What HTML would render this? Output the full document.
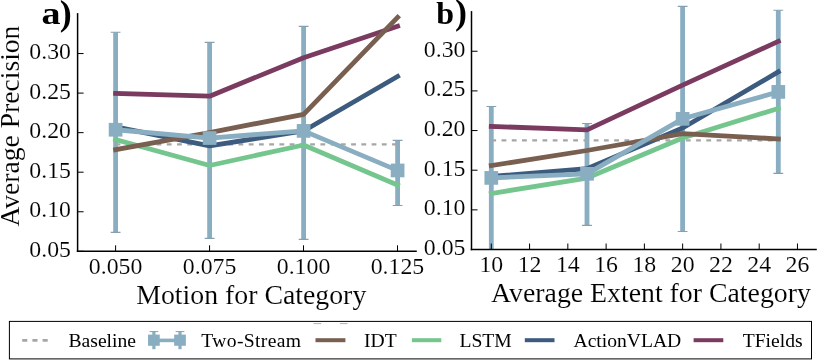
<!DOCTYPE html>
<html><head><meta charset="utf-8"><style>
html,body{margin:0;padding:0;background:#fff;width:821px;height:362px;overflow:hidden}
svg{display:block;will-change:transform}
</style></head><body>
<svg width="821" height="362" viewBox="0 0 821 362">
<rect width="821" height="362" fill="#fff"/>
<defs><clipPath id="ca"><rect x="77.6" y="0" width="339.2" height="251.3"/></clipPath><clipPath id="cb"><rect x="471.5" y="0" width="345.3" height="249.5"/></clipPath></defs>
<g clip-path="url(#ca)">
<line x1="115.60" y1="32.30" x2="115.60" y2="232.40" stroke="#89aec1" stroke-width="4.80"/>
<line x1="110.70" y1="32.30" x2="120.50" y2="32.30" stroke="#86a0b0" stroke-width="1.1"/>
<line x1="110.70" y1="232.40" x2="120.50" y2="232.40" stroke="#86a0b0" stroke-width="1.1"/>
<line x1="209.60" y1="42.40" x2="209.60" y2="238.40" stroke="#89aec1" stroke-width="4.80"/>
<line x1="204.70" y1="42.40" x2="214.50" y2="42.40" stroke="#86a0b0" stroke-width="1.1"/>
<line x1="204.70" y1="238.40" x2="214.50" y2="238.40" stroke="#86a0b0" stroke-width="1.1"/>
<line x1="303.60" y1="26.40" x2="303.60" y2="239.40" stroke="#89aec1" stroke-width="4.80"/>
<line x1="298.70" y1="26.40" x2="308.50" y2="26.40" stroke="#86a0b0" stroke-width="1.1"/>
<line x1="298.70" y1="239.40" x2="308.50" y2="239.40" stroke="#86a0b0" stroke-width="1.1"/>
<line x1="397.60" y1="140.40" x2="397.60" y2="205.50" stroke="#89aec1" stroke-width="4.80"/>
<line x1="392.70" y1="140.40" x2="402.50" y2="140.40" stroke="#86a0b0" stroke-width="1.1"/>
<line x1="392.70" y1="205.50" x2="402.50" y2="205.50" stroke="#86a0b0" stroke-width="1.1"/>
<line x1="115.60" y1="144.30" x2="397.60" y2="144.30" stroke="#a6a6a6" stroke-width="2.2" stroke-dasharray="4.8 5.44"/>
<polyline points="115.60,126.80 209.60,145.80 303.60,131.00 397.60,76.50" fill="none" stroke="#3c5b7e" stroke-width="4.80" stroke-linecap="square" stroke-linejoin="round" />
<polyline points="115.60,139.50 209.60,165.50 303.60,145.00 397.60,185.00" fill="none" stroke="#75c68e" stroke-width="4.80" stroke-linecap="square" stroke-linejoin="round" />
<polyline points="115.60,93.50 209.60,96.20 303.60,57.70 397.60,26.20" fill="none" stroke="#7b3b60" stroke-width="4.80" stroke-linecap="square" stroke-linejoin="round" />
<polyline points="115.60,149.70 209.60,132.60 303.60,114.30 397.60,17.40" fill="none" stroke="#785f50" stroke-width="4.80" stroke-linecap="square" stroke-linejoin="round" />
<polyline points="115.60,129.75 209.60,138.05 303.60,130.90 397.60,170.45" fill="none" stroke="#89aec1" stroke-width="4.80" stroke-linecap="square" stroke-linejoin="round" />
<rect x="108.75" y="122.90" width="13.7" height="13.7" fill="#89aec1"/>
<rect x="202.75" y="131.20" width="13.7" height="13.7" fill="#89aec1"/>
<rect x="296.75" y="124.05" width="13.7" height="13.7" fill="#89aec1"/>
<rect x="390.75" y="163.60" width="13.7" height="13.7" fill="#89aec1"/>
</g>
<g clip-path="url(#cb)">
<line x1="491.30" y1="106.50" x2="491.30" y2="262.00" stroke="#89aec1" stroke-width="4.80"/>
<line x1="486.40" y1="106.50" x2="496.20" y2="106.50" stroke="#86a0b0" stroke-width="1.1"/>
<line x1="486.40" y1="262.00" x2="496.20" y2="262.00" stroke="#86a0b0" stroke-width="1.1"/>
<line x1="587.00" y1="123.50" x2="587.00" y2="225.40" stroke="#89aec1" stroke-width="4.80"/>
<line x1="582.10" y1="123.50" x2="591.90" y2="123.50" stroke="#86a0b0" stroke-width="1.1"/>
<line x1="582.10" y1="225.40" x2="591.90" y2="225.40" stroke="#86a0b0" stroke-width="1.1"/>
<line x1="682.60" y1="6.40" x2="682.60" y2="231.50" stroke="#89aec1" stroke-width="4.80"/>
<line x1="677.70" y1="6.40" x2="687.50" y2="6.40" stroke="#86a0b0" stroke-width="1.1"/>
<line x1="677.70" y1="231.50" x2="687.50" y2="231.50" stroke="#86a0b0" stroke-width="1.1"/>
<line x1="778.30" y1="10.30" x2="778.30" y2="173.40" stroke="#89aec1" stroke-width="4.80"/>
<line x1="773.40" y1="10.30" x2="783.20" y2="10.30" stroke="#86a0b0" stroke-width="1.1"/>
<line x1="773.40" y1="173.40" x2="783.20" y2="173.40" stroke="#86a0b0" stroke-width="1.1"/>
<line x1="491.30" y1="140.40" x2="778.30" y2="140.40" stroke="#a6a6a6" stroke-width="2.2" stroke-dasharray="4.8 5.44"/>
<polyline points="491.30,176.40 587.00,168.60 682.60,128.00 778.30,71.90" fill="none" stroke="#3c5b7e" stroke-width="4.80" stroke-linecap="square" stroke-linejoin="round" />
<polyline points="491.30,193.50 587.00,178.06 682.60,138.00 778.30,108.40" fill="none" stroke="#75c68e" stroke-width="4.80" stroke-linecap="square" stroke-linejoin="round" />
<polyline points="491.30,126.40 587.00,129.90 682.60,85.20 778.30,41.40" fill="none" stroke="#7b3b60" stroke-width="4.80" stroke-linecap="square" stroke-linejoin="round" />
<polyline points="491.30,165.60 587.00,150.50 682.60,133.60 778.30,138.90" fill="none" stroke="#785f50" stroke-width="4.80" stroke-linecap="square" stroke-linejoin="round" />
<polyline points="491.30,177.90 587.00,173.80 682.60,118.80 778.30,91.90" fill="none" stroke="#89aec1" stroke-width="4.80" stroke-linecap="square" stroke-linejoin="round" />
<rect x="484.45" y="171.05" width="13.7" height="13.7" fill="#89aec1"/>
<rect x="580.15" y="166.95" width="13.7" height="13.7" fill="#89aec1"/>
<rect x="675.75" y="111.95" width="13.7" height="13.7" fill="#89aec1"/>
<rect x="771.45" y="85.05" width="13.7" height="13.7" fill="#89aec1"/>
</g>
<line x1="77.60" y1="13.10" x2="77.60" y2="252.05" stroke="#000" stroke-width="1.50"/>
<line x1="76.85" y1="251.30" x2="416.80" y2="251.30" stroke="#000" stroke-width="1.50"/>
<line x1="115.60" y1="251.30" x2="115.60" y2="245.30" stroke="#000" stroke-width="1"/>
<line x1="209.57" y1="251.30" x2="209.57" y2="245.30" stroke="#000" stroke-width="1"/>
<line x1="303.53" y1="251.30" x2="303.53" y2="245.30" stroke="#000" stroke-width="1"/>
<line x1="397.50" y1="251.30" x2="397.50" y2="245.30" stroke="#000" stroke-width="1"/>
<line x1="77.60" y1="251.30" x2="83.60" y2="251.30" stroke="#000" stroke-width="1"/>
<line x1="77.60" y1="211.75" x2="83.60" y2="211.75" stroke="#000" stroke-width="1"/>
<line x1="77.60" y1="172.20" x2="83.60" y2="172.20" stroke="#000" stroke-width="1"/>
<line x1="77.60" y1="132.65" x2="83.60" y2="132.65" stroke="#000" stroke-width="1"/>
<line x1="77.60" y1="93.10" x2="83.60" y2="93.10" stroke="#000" stroke-width="1"/>
<line x1="77.60" y1="53.55" x2="83.60" y2="53.55" stroke="#000" stroke-width="1"/>
<line x1="471.50" y1="11.10" x2="471.50" y2="250.25" stroke="#000" stroke-width="1.50"/>
<line x1="470.75" y1="249.50" x2="816.80" y2="249.50" stroke="#000" stroke-width="1.50"/>
<line x1="491.30" y1="249.50" x2="491.30" y2="243.50" stroke="#000" stroke-width="1"/>
<line x1="529.57" y1="249.50" x2="529.57" y2="243.50" stroke="#000" stroke-width="1"/>
<line x1="567.84" y1="249.50" x2="567.84" y2="243.50" stroke="#000" stroke-width="1"/>
<line x1="606.11" y1="249.50" x2="606.11" y2="243.50" stroke="#000" stroke-width="1"/>
<line x1="644.38" y1="249.50" x2="644.38" y2="243.50" stroke="#000" stroke-width="1"/>
<line x1="682.65" y1="249.50" x2="682.65" y2="243.50" stroke="#000" stroke-width="1"/>
<line x1="720.92" y1="249.50" x2="720.92" y2="243.50" stroke="#000" stroke-width="1"/>
<line x1="759.19" y1="249.50" x2="759.19" y2="243.50" stroke="#000" stroke-width="1"/>
<line x1="797.46" y1="249.50" x2="797.46" y2="243.50" stroke="#000" stroke-width="1"/>
<line x1="471.50" y1="249.50" x2="477.50" y2="249.50" stroke="#000" stroke-width="1"/>
<line x1="471.50" y1="209.85" x2="477.50" y2="209.85" stroke="#000" stroke-width="1"/>
<line x1="471.50" y1="170.20" x2="477.50" y2="170.20" stroke="#000" stroke-width="1"/>
<line x1="471.50" y1="130.55" x2="477.50" y2="130.55" stroke="#000" stroke-width="1"/>
<line x1="471.50" y1="90.90" x2="477.50" y2="90.90" stroke="#000" stroke-width="1"/>
<line x1="471.50" y1="51.25" x2="477.50" y2="51.25" stroke="#000" stroke-width="1"/>
<text x="71" y="256.80" font-family="Liberation Serif" stroke="#fff" stroke-width="0.12" font-size="23.8" text-anchor="end">0.05</text>
<text x="465.5" y="255.00" font-family="Liberation Serif" stroke="#fff" stroke-width="0.12" font-size="23.8" text-anchor="end">0.05</text>
<text x="71" y="217.25" font-family="Liberation Serif" stroke="#fff" stroke-width="0.12" font-size="23.8" text-anchor="end">0.10</text>
<text x="465.5" y="215.35" font-family="Liberation Serif" stroke="#fff" stroke-width="0.12" font-size="23.8" text-anchor="end">0.10</text>
<text x="71" y="177.70" font-family="Liberation Serif" stroke="#fff" stroke-width="0.12" font-size="23.8" text-anchor="end">0.15</text>
<text x="465.5" y="175.70" font-family="Liberation Serif" stroke="#fff" stroke-width="0.12" font-size="23.8" text-anchor="end">0.15</text>
<text x="71" y="138.15" font-family="Liberation Serif" stroke="#fff" stroke-width="0.12" font-size="23.8" text-anchor="end">0.20</text>
<text x="465.5" y="136.05" font-family="Liberation Serif" stroke="#fff" stroke-width="0.12" font-size="23.8" text-anchor="end">0.20</text>
<text x="71" y="98.60" font-family="Liberation Serif" stroke="#fff" stroke-width="0.12" font-size="23.8" text-anchor="end">0.25</text>
<text x="465.5" y="96.40" font-family="Liberation Serif" stroke="#fff" stroke-width="0.12" font-size="23.8" text-anchor="end">0.25</text>
<text x="71" y="59.05" font-family="Liberation Serif" stroke="#fff" stroke-width="0.12" font-size="23.8" text-anchor="end">0.30</text>
<text x="465.5" y="56.75" font-family="Liberation Serif" stroke="#fff" stroke-width="0.12" font-size="23.8" text-anchor="end">0.30</text>
<text x="115.60" y="273.8" font-family="Liberation Serif" stroke="#fff" stroke-width="0.12" font-size="23.8" text-anchor="middle">0.050</text>
<text x="209.57" y="273.8" font-family="Liberation Serif" stroke="#fff" stroke-width="0.12" font-size="23.8" text-anchor="middle">0.075</text>
<text x="303.53" y="273.8" font-family="Liberation Serif" stroke="#fff" stroke-width="0.12" font-size="23.8" text-anchor="middle">0.100</text>
<text x="397.50" y="273.8" font-family="Liberation Serif" stroke="#fff" stroke-width="0.12" font-size="23.8" text-anchor="middle">0.125</text>
<text x="491.30" y="272.2" font-family="Liberation Serif" stroke="#fff" stroke-width="0.12" font-size="23.8" text-anchor="middle">10</text>
<text x="529.57" y="272.2" font-family="Liberation Serif" stroke="#fff" stroke-width="0.12" font-size="23.8" text-anchor="middle">12</text>
<text x="567.84" y="272.2" font-family="Liberation Serif" stroke="#fff" stroke-width="0.12" font-size="23.8" text-anchor="middle">14</text>
<text x="606.11" y="272.2" font-family="Liberation Serif" stroke="#fff" stroke-width="0.12" font-size="23.8" text-anchor="middle">16</text>
<text x="644.38" y="272.2" font-family="Liberation Serif" stroke="#fff" stroke-width="0.12" font-size="23.8" text-anchor="middle">18</text>
<text x="682.65" y="272.2" font-family="Liberation Serif" stroke="#fff" stroke-width="0.12" font-size="23.8" text-anchor="middle">20</text>
<text x="720.92" y="272.2" font-family="Liberation Serif" stroke="#fff" stroke-width="0.12" font-size="23.8" text-anchor="middle">22</text>
<text x="759.19" y="272.2" font-family="Liberation Serif" stroke="#fff" stroke-width="0.12" font-size="23.8" text-anchor="middle">24</text>
<text x="797.46" y="272.2" font-family="Liberation Serif" stroke="#fff" stroke-width="0.12" font-size="23.8" text-anchor="middle">26</text>
<text x="251.25" y="303.9" font-family="Liberation Serif" stroke="#fff" stroke-width="0.12" font-size="27.8" text-anchor="middle">Motion for Category</text>
<text x="650.95" y="302.4" font-family="Liberation Serif" stroke="#fff" stroke-width="0.12" font-size="27.8" text-anchor="middle">Average Extent for Category</text>
<text transform="translate(19.1,126.1) rotate(-90)" x="0" y="0" font-family="Liberation Serif" stroke="#fff" stroke-width="0.12" font-size="27.6" text-anchor="middle">Average Precision</text>
<text transform="translate(41.6,24.4) scale(1.17,1)" x="0" y="0" font-family="Liberation Serif" font-size="32.5" font-weight="bold">a</text>
<text x="59.8" y="24.8" font-family="Liberation Serif" font-size="36" font-weight="bold">)</text>
<text x="436.2" y="23.8" font-family="Liberation Serif" font-size="32" font-weight="bold">b</text>
<text x="455" y="24.4" font-family="Liberation Serif" font-size="36" font-weight="bold">)</text>
<rect x="9.4" y="321.4" width="802.1" height="37.5" fill="none" stroke="#000" stroke-width="1"/>
<line x1="22.2" y1="340.4" x2="48.1" y2="340.4" stroke="#a6a6a6" stroke-width="2.6" stroke-dasharray="5.1 5.1"/>
<text x="68.5" y="347" font-family="Liberation Serif" font-size="19.6">Baseline</text>
<line x1="154" y1="340.4" x2="179.9" y2="340.4" stroke="#89aec1" stroke-width="3.6"/>
<rect x="148.05" y="334.6" width="11.7" height="11.2" fill="#89aec1"/>
<line x1="153.90" y1="331.4" x2="153.90" y2="349.2" stroke="#89aec1" stroke-width="3.2"/>
<line x1="149.50" y1="331.6" x2="158.30" y2="331.6" stroke="#86a0b0" stroke-width="1.0"/>
<rect x="174.15" y="334.6" width="11.7" height="11.2" fill="#89aec1"/>
<line x1="180.00" y1="331.4" x2="180.00" y2="349.2" stroke="#89aec1" stroke-width="3.2"/>
<line x1="175.60" y1="331.6" x2="184.40" y2="331.6" stroke="#86a0b0" stroke-width="1.0"/>
<text x="201.3" y="347" font-family="Liberation Serif" font-size="19.6" letter-spacing="0.35">Two-Stream</text>
<rect x="315.50" y="338.20" width="29.90" height="4.0" fill="#785f50"/>
<text x="364.0" y="347" font-family="Liberation Serif" font-size="19.6">IDT</text>
<rect x="411.90" y="338.20" width="29.40" height="4.0" fill="#75c68e"/>
<text x="459.5" y="347" font-family="Liberation Serif" font-size="19.6">LSTM</text>
<rect x="524.80" y="338.20" width="29.70" height="4.0" fill="#3c5b7e"/>
<text x="573.5" y="347" font-family="Liberation Serif" font-size="19.6">ActionVLAD</text>
<rect x="693.60" y="338.20" width="29.70" height="4.0" fill="#7b3b60"/>
<text x="742.7" y="347" font-family="Liberation Serif" font-size="19.6">TFields</text>
<line x1="313.5" y1="323.6" x2="321.2" y2="323.6" stroke="#a9b6be" stroke-width="1"/>
<line x1="339.9" y1="323.6" x2="347.6" y2="323.6" stroke="#a9b6be" stroke-width="1"/>
</svg>
</body></html>
